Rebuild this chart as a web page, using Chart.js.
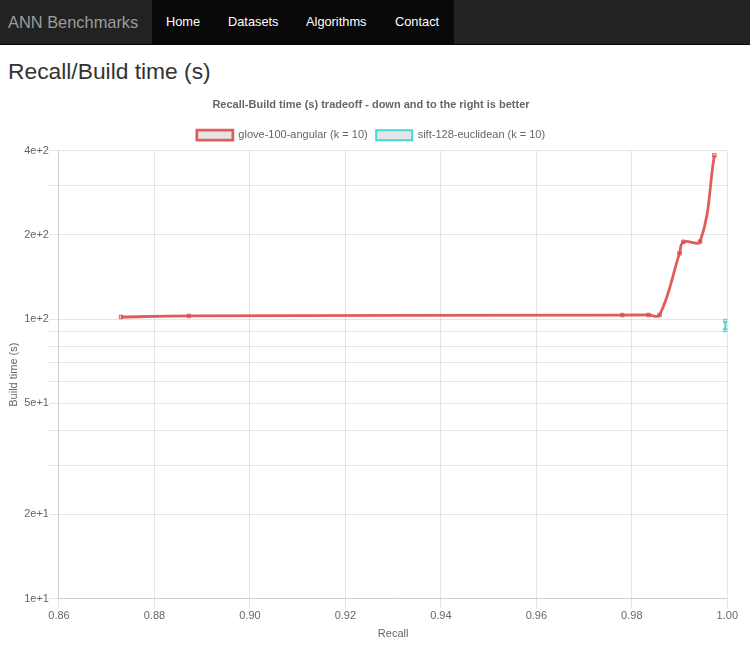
<!DOCTYPE html>
<html>
<head>
<meta charset="utf-8">
<script src="https://cdn.jsdelivr.net/npm/chart.js@4"></script>
<style>
  html, body { margin: 0; padding: 0; background: #fff; font-family: "Helvetica Neue", Helvetica, "Liberation Sans", Arial, sans-serif; }
  .navbar { position: absolute; left: 0; top: 0; width: 750px; height: 44px; background: #222; border-bottom: 1px solid #080808; }
  .brand { position: absolute; left: 0; top: 0; width: 144px; height: 44px; padding-left: 8px; line-height: 44px; font-size: 16.4px; color: #9d9d9d; }
  .nav { position: absolute; left: 152px; top: 0; height: 44px; width: 302px; background: #080808; }
  .nav span { position: absolute; top: 0; line-height: 44px; font-size: 12.8px; color: #fff; }
  h2 { position: absolute; left: 8px; top: 56px; margin: 0; font-size: 22.8px; font-weight: 500; color: #333; line-height: 30px; }
  #wrap { position: absolute; left: 3px; top: 88px; width: 736px; height: 557px; }
</style>
</head>
<body>
<div class="navbar">
  <div class="brand">ANN Benchmarks</div>
  <div class="nav">
    <span style="left:14px">Home</span>
    <span style="left:76px">Datasets</span>
    <span style="left:154px">Algorithms</span>
    <span style="left:243px">Contact</span>
  </div>
</div>
<h2>Recall/Build time (s)</h2>
<div id="wrap"><canvas id="c"></canvas></div>
<script>
const seriesNames = ["glove-100-angular (k = 10)", "sift-128-euclidean (k = 10)"];
const gloveRecall = [0.8730, 0.8872, 0.9780, 0.9835, 0.9858, 0.9900, 0.9908, 0.9943, 0.9973];
const gloveBuild  = [101.7, 102.6, 103.3, 103.4, 103.3, 172, 188.8, 189.5, 385];
const siftRecall  = [0.9996, 0.9996];
const siftBuild   = [98.4, 91.3];
const xTicks = [0.86, 0.88, 0.90, 0.92, 0.94, 0.96, 0.98, 1.00];
const yTicks = [10, 20, 30, 40, 50, 60, 70, 80, 90, 100, 200, 300, 400];
const yLabeled = [10, 20, 50, 100, 200, 400];

const red = "rgb(226,92,92)";
const cyan = "rgb(70,214,214)";

function pts(xs, ys) { return xs.map((x, i) => ({ x: x, y: ys[i] })); }

const FONT = "'Helvetica Neue', Helvetica, 'Liberation Sans', Arial, sans-serif";
Chart.defaults.font.family = FONT;
Chart.defaults.font.size = 11;
Chart.defaults.color = "#666";

new Chart(document.getElementById("c"), {
  type: "scatter",
  data: {
    datasets: [
      { label: seriesNames[0], data: pts(gloveRecall, gloveBuild), showLine: true, borderColor: red, backgroundColor: "rgba(0,0,0,0.1)",
        borderWidth: 2.8, tension: 0.4, pointStyle: "rect", pointRadius: 2.5, pointBorderWidth: 1, pointBackgroundColor: "rgba(0,0,0,0.1)" },
      { label: seriesNames[1], data: pts(siftRecall, siftBuild), showLine: true, borderColor: cyan, backgroundColor: "rgba(0,0,0,0.1)",
        borderWidth: 2, tension: 0.4, pointStyle: "rect", pointRadius: 2.5, pointBorderWidth: 1, pointBackgroundColor: "rgba(0,0,0,0.1)" }
    ]
  },
  options: {
    responsive: true,
    maintainAspectRatio: false,
    animation: false,
    layout: { padding: 0 },
    plugins: {
      title: { display: true, text: "Recall-Build time (s) tradeoff - down and to the right is better", font: { size: 11, weight: "bold" }, color: "#666", padding: { top: 10, bottom: 10 } },
      legend: { labels: { boxWidth: 36, boxHeight: 10, padding: 8.5, color: "#666", font: { size: 11 } } },
      tooltip: { enabled: false }
    },
    scales: {
      x: {
        type: "linear", min: xTicks[0], max: xTicks[xTicks.length - 1],
        afterBuildTicks: (axis) => { axis.ticks = xTicks.map(v => ({ value: v })); },
        ticks: { callback: (v) => Number(v).toFixed(2), color: "#666", maxRotation: 0, padding: 1 },
        grid: { color: "rgba(0,0,0,0.1)", tickLength: 10 },
        title: { display: true, text: "Recall", color: "#666" }
      },
      y: {
        type: "logarithmic", min: yTicks[0], max: yTicks[yTicks.length - 1],
        afterBuildTicks: (axis) => { axis.ticks = yTicks.map(v => ({ value: v })); },
        ticks: {
          color: "#666", autoSkip: false, padding: 0,
          callback: (v) => yLabeled.includes(v) ? Number(v).toExponential(0) : ""
        },
        grid: { color: "rgba(0,0,0,0.1)", tickLength: 10 },
        title: { display: true, text: "Build time (s)", color: "#666" }
      }
    }
  }
});
</script>
</body>
</html>
